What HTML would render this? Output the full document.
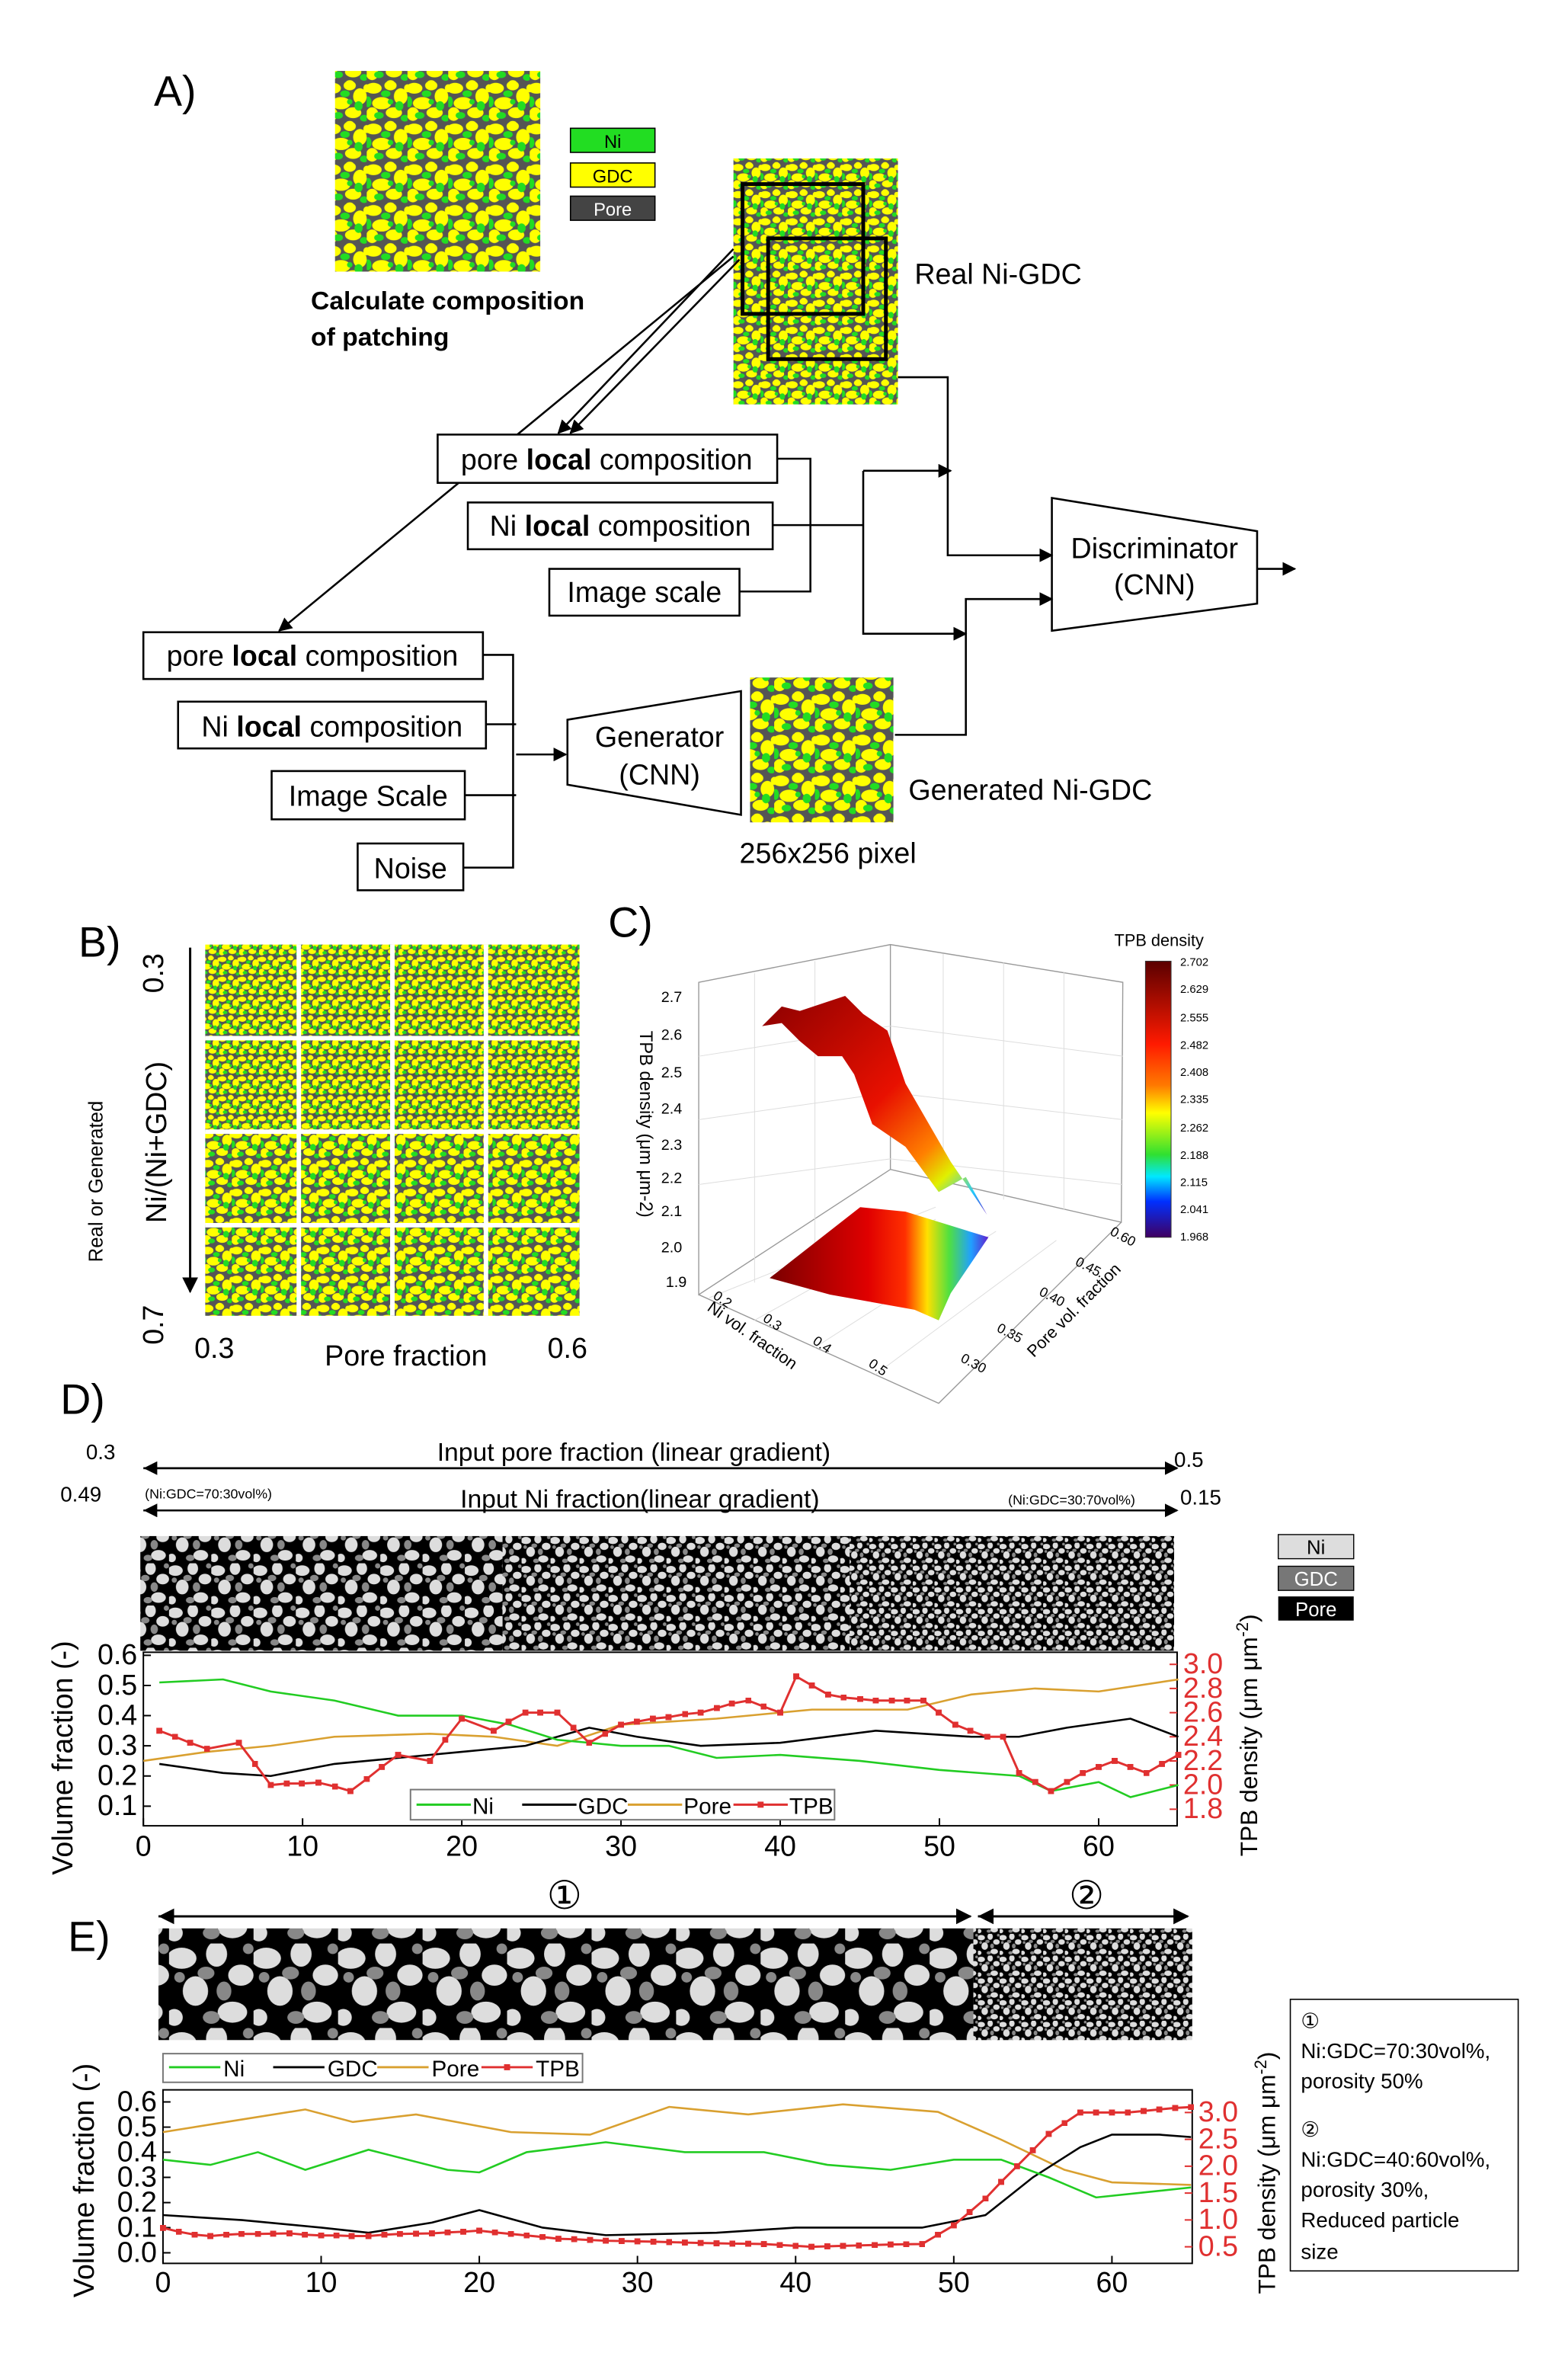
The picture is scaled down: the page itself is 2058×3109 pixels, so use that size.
<!DOCTYPE html>
<html><head><meta charset="utf-8"><style>
html,body{margin:0;padding:0;background:#fff}
svg{display:block}
text{font-family:"Liberation Sans",sans-serif}
</style></head><body>
<svg xmlns="http://www.w3.org/2000/svg" width="2058" height="3109" viewBox="0 0 1039 1570" preserveAspectRatio="none">
<defs>
<marker id="ah" viewBox="0 0 10 10" refX="9" refY="5" markerWidth="7" markerHeight="7" orient="auto"><path d="M0,0L10,5L0,10z" fill="#000"/></marker>
<marker id="sq" viewBox="0 0 4 4" refX="2" refY="2" markerWidth="4" markerHeight="4" markerUnits="userSpaceOnUse"><rect width="4" height="4" fill="#e03030"/></marker>
<g id="ygtile">
<rect width="60" height="60" fill="#555"/>
<g fill="#ffff00"><ellipse cx="10" cy="10" rx="12" ry="8"/><ellipse cx="35" cy="6" rx="9" ry="7"/><ellipse cx="50" cy="22" rx="10" ry="12"/><ellipse cx="22" cy="32" rx="14" ry="9"/><ellipse cx="8" cy="48" rx="9" ry="10"/><ellipse cx="40" cy="46" rx="12" ry="8"/><ellipse cx="60" cy="10" rx="5" ry="6"/><ellipse cx="0" cy="10" rx="5" ry="6"/><ellipse cx="35" cy="62" rx="6" ry="4"/></g>
<g fill="#22dd22"><ellipse cx="28" cy="18" rx="7" ry="5"/><ellipse cx="48" cy="36" rx="6" ry="7"/><ellipse cx="18" cy="50" rx="7" ry="5"/><ellipse cx="2" cy="30" rx="5" ry="8"/><ellipse cx="56" cy="54" rx="6" ry="5"/><ellipse cx="35" cy="30" rx="4" ry="4"/></g>
</g>
<g id="gtile">
<rect width="80" height="80" fill="#000"/>
<g fill="#ddd"><ellipse cx="12" cy="14" rx="14" ry="10"/><ellipse cx="45" cy="10" rx="10" ry="12"/><ellipse cx="68" cy="30" rx="12" ry="10"/><ellipse cx="25" cy="45" rx="12" ry="14"/><ellipse cx="60" cy="65" rx="14" ry="10"/><ellipse cx="5" cy="70" rx="8" ry="8"/></g>
<g fill="#888"><ellipse cx="35" cy="28" rx="8" ry="6"/><ellipse cx="52" cy="45" rx="7" ry="9"/><ellipse cx="10" cy="32" rx="5" ry="5"/><ellipse cx="40" cy="70" rx="8" ry="6"/><ellipse cx="75" cy="5" rx="5" ry="5"/></g>
</g>
<pattern id="pA" width="60" height="60" patternUnits="userSpaceOnUse" patternTransform="scale(0.45)"><use href="#ygtile"/></pattern>
<pattern id="pA2" width="60" height="60" patternUnits="userSpaceOnUse" patternTransform="scale(0.3)"><use href="#ygtile"/></pattern>
<pattern id="pB" width="60" height="60" patternUnits="userSpaceOnUse" patternTransform="scale(0.22)"><use href="#ygtile"/></pattern>
<pattern id="pB2" width="60" height="60" patternUnits="userSpaceOnUse" patternTransform="scale(0.32)"><use href="#ygtile"/></pattern>
<pattern id="pG1" width="80" height="80" patternUnits="userSpaceOnUse" patternTransform="scale(0.7)"><use href="#gtile"/></pattern>
<pattern id="pG2" width="80" height="80" patternUnits="userSpaceOnUse" patternTransform="scale(0.18)"><use href="#gtile"/></pattern>
<pattern id="pG3" width="80" height="80" patternUnits="userSpaceOnUse" patternTransform="scale(0.35)"><use href="#gtile"/></pattern>
<pattern id="pG4" width="80" height="80" patternUnits="userSpaceOnUse" patternTransform="scale(0.24)"><use href="#gtile"/></pattern>
<linearGradient id="cb" x1="0" y1="0" x2="0" y2="1">
<stop offset="0" stop-color="#5a0000"/><stop offset="0.3" stop-color="#ff1a00"/><stop offset="0.45" stop-color="#ff7a00"/><stop offset="0.55" stop-color="#ffff00"/><stop offset="0.7" stop-color="#30e030"/><stop offset="0.78" stop-color="#00e8ff"/><stop offset="0.87" stop-color="#0030ff"/><stop offset="1" stop-color="#400060"/></linearGradient>
<linearGradient id="surf" x1="0" y1="0" x2="1" y2="1">
<stop offset="0" stop-color="#8a0000"/><stop offset="0.5" stop-color="#e81000"/><stop offset="0.72" stop-color="#ff8000"/><stop offset="0.82" stop-color="#e0f000"/><stop offset="0.92" stop-color="#20c8ff"/><stop offset="1" stop-color="#6020d0"/></linearGradient>
<linearGradient id="floor" x1="0" y1="0" x2="1" y2="0">
<stop offset="0" stop-color="#7a0000"/><stop offset="0.45" stop-color="#e00000"/><stop offset="0.62" stop-color="#ff3000"/><stop offset="0.72" stop-color="#ffe000"/><stop offset="0.82" stop-color="#50e040"/><stop offset="0.92" stop-color="#20a0ff"/><stop offset="1" stop-color="#6020d0"/></linearGradient>
</defs>

<!-- textures -->
<rect x="222" y="47" width="136" height="133" fill="url(#pA)"/>
<rect x="486" y="105" width="109" height="163" fill="url(#pA2)"/>
<rect x="497" y="449" width="95" height="96" fill="url(#pA)"/>
<rect x="136" y="626" width="248" height="124" fill="url(#pB)"/>
<rect x="136" y="750" width="248" height="122" fill="url(#pB2)"/>
<g stroke="#fff" stroke-width="3"><path d="M198,626V872M260,626V872M322,626V872M136,688H384M136,750H384M136,812H384"/></g>
<rect x="93" y="1018" width="240" height="76" fill="url(#pG3)"/>
<rect x="333" y="1018" width="230" height="76" fill="url(#pG4)"/>
<rect x="563" y="1018" width="215" height="76" fill="url(#pG2)"/>
<rect x="105" y="1278" width="540" height="74" fill="url(#pG1)"/>
<rect x="645" y="1278" width="145" height="74" fill="url(#pG2)"/>

<g font-size="19" fill="#000">
<text x="102" y="70" font-size="28">A)</text>
<rect x="378" y="85" width="56" height="16" fill="#22dd22" stroke="#000" stroke-width=".8"/><text x="406" y="98" font-size="12" text-anchor="middle">Ni</text>
<rect x="378" y="108" width="56" height="16" fill="#ffff00" stroke="#000" stroke-width=".8"/><text x="406" y="121" font-size="12" text-anchor="middle">GDC</text>
<rect x="378" y="130" width="56" height="16" fill="#444" stroke="#000" stroke-width=".8"/><text x="406" y="143" font-size="12" text-anchor="middle" fill="#fff">Pore</text>
<text x="206" y="205" font-size="17" font-weight="bold">Calculate composition</text>
<text x="206" y="229" font-size="17" font-weight="bold">of patching</text>
<rect x="492" y="122" width="80" height="86" fill="none" stroke="#000" stroke-width="2.5"/>
<rect x="509" y="158" width="78" height="80" fill="none" stroke="#000" stroke-width="2.5"/>
<text x="606" y="188">Real Ni-GDC</text>
<g fill="none" stroke="#000" stroke-width="1.3">
<path d="M515,304H537V392H490"/>
<path d="M512,348H572"/>
<path d="M572,312V420H640" marker-end="url(#ah)"/>
<path d="M572,312H630" marker-end="url(#ah)"/>
<path d="M595,250H628V368H697" marker-end="url(#ah)"/>
<path d="M593,487H640V397H697" marker-end="url(#ah)"/>
<path d="M833,377H858" marker-end="url(#ah)"/>
<path d="M486,165L370,287" marker-end="url(#ah)"/>
<path d="M490,172L378,287" marker-end="url(#ah)"/>
<path d="M486,170L185,418" marker-end="url(#ah)"/>
<path d="M320,434H340V575H307"/>
<path d="M322,480H342"/>
<path d="M308,527H342"/>
<path d="M342,500H375" marker-end="url(#ah)"/>
<path d="M697,330L833,352V400L697,418Z"/>
<path d="M376,477L491,458V540L376,520Z"/>
<rect x="290" y="288" width="225" height="32" fill="#fff"/>
<rect x="310" y="333" width="202" height="31" fill="#fff"/>
<rect x="364" y="377" width="126" height="31" fill="#fff"/>
<rect x="95" y="419" width="225" height="31" fill="#fff"/>
<rect x="118" y="465" width="204" height="31" fill="#fff"/>
<rect x="180" y="511" width="128" height="32" fill="#fff"/>
<rect x="237" y="559" width="70" height="31" fill="#fff"/>
</g>
<text x="402" y="311" text-anchor="middle">pore <tspan font-weight="bold">local</tspan> composition</text>
<text x="411" y="355" text-anchor="middle">Ni <tspan font-weight="bold">local</tspan> composition</text>
<text x="427" y="399" text-anchor="middle">Image scale</text>
<text x="207" y="441" text-anchor="middle">pore <tspan font-weight="bold">local</tspan> composition</text>
<text x="220" y="488" text-anchor="middle">Ni <tspan font-weight="bold">local</tspan> composition</text>
<text x="244" y="534" text-anchor="middle">Image Scale</text>
<text x="272" y="582" text-anchor="middle">Noise</text>
<text x="765" y="370" text-anchor="middle">Discriminator</text>
<text x="765" y="394" text-anchor="middle">(CNN)</text>
<text x="437" y="495" text-anchor="middle">Generator</text>
<text x="437" y="520" text-anchor="middle">(CNN)</text>
<text x="602" y="530">Generated Ni-GDC</text>
<text x="490" y="572">256x256 pixel</text>

<text x="52" y="634" font-size="28">B)</text>
<text transform="translate(108,645) rotate(-90)" text-anchor="middle">0.3</text>
<text transform="translate(108,878) rotate(-90)" text-anchor="middle">0.7</text>
<text transform="translate(110,757) rotate(-90)" text-anchor="middle">Ni/(Ni+GDC)</text>
<text transform="translate(68,783) rotate(-90)" font-size="13" text-anchor="middle">Real or Generated</text>
<path d="M126,628V856" stroke="#000" stroke-width="1.5" marker-end="url(#ah)"/>
<text x="142" y="900" text-anchor="middle">0.3</text>
<text x="269" y="905" text-anchor="middle">Pore fraction</text>
<text x="376" y="900" text-anchor="middle">0.6</text>

<text x="403" y="621" font-size="28">C)</text>
<g stroke="#999" stroke-width=".7" fill="none">
<path d="M463,651L590,626L744,651L743,810L590,775L463,858Z"/>
<path d="M590,626V775"/>
<path d="M463,858L622,930L743,810"/>
</g>
<g stroke="#ddd" stroke-width=".5" fill="none">
<path d="M463,700L590,680L744,700M463,742L590,724L744,742M463,785L590,768L744,785M500,645V850M540,637V832M625,632V784M665,638V795M705,644V802M500,875L620,808M540,893L660,816M580,911L700,822M470,860L620,800"/>
</g>
<path d="M505,680L518,667L530,670L548,664L560,660L572,672L588,683L600,718L630,770L654,805L640,780L622,790L600,760L578,745L566,712L558,700L542,700L530,690L518,678Z" fill="url(#surf)"/>
<path d="M510,847L570,800L600,803L655,820L630,857L622,875L606,868L550,858Z" fill="url(#floor)"/>
<g font-size="10" text-anchor="end">
<text x="452" y="664">2.7</text><text x="452" y="689">2.6</text><text x="452" y="714">2.5</text><text x="452" y="738">2.4</text><text x="452" y="762">2.3</text><text x="452" y="784">2.2</text><text x="452" y="806">2.1</text><text x="452" y="830">2.0</text><text x="455" y="853">1.9</text>
</g>
<text transform="translate(424,745) rotate(90)" font-size="12" text-anchor="middle">TPB density (μm μm-2)</text>
<g font-size="9"><text transform="translate(472,860) rotate(35)">0.2</text><text transform="translate(505,875) rotate(35)">0.3</text><text transform="translate(538,890) rotate(35)">0.4</text><text transform="translate(575,905) rotate(35)">0.5</text>
<text transform="translate(636,902) rotate(28)">0.30</text><text transform="translate(660,882) rotate(28)">0.35</text><text transform="translate(688,858) rotate(28)">0.40</text><text transform="translate(712,838) rotate(28)">0.45</text><text transform="translate(735,818) rotate(28)">0.60</text></g>
<text transform="translate(468,868) rotate(35)" font-size="11">Ni vol. fraction</text>
<text transform="translate(685,900) rotate(-45)" font-size="11">Pore vol. fraction</text>
<text x="768" y="627" font-size="11" text-anchor="middle">TPB density</text>
<rect x="759" y="637" width="17" height="183" fill="url(#cb)" stroke="#333" stroke-width=".5"/>
<g font-size="7.5"><text x="782" y="640">2.702</text><text x="782" y="658">2.629</text><text x="782" y="677">2.555</text><text x="782" y="695">2.482</text><text x="782" y="713">2.408</text><text x="782" y="731">2.335</text><text x="782" y="750">2.262</text><text x="782" y="768">2.188</text><text x="782" y="786">2.115</text><text x="782" y="804">2.041</text><text x="782" y="822">1.968</text></g>

<text x="40" y="937" font-size="28">D)</text>
<text x="57" y="967" font-size="14">0.3</text>
<text x="420" y="968" font-size="17" text-anchor="middle">Input pore fraction (linear gradient)</text>
<path d="M95,973H780" stroke="#000" stroke-width="1.3" marker-end="url(#ah)"/>
<path d="M780,973H96" stroke="#000" stroke-width="1.3" marker-end="url(#ah)"/>
<text x="778" y="972" font-size="14">0.5</text>
<text x="40" y="995" font-size="14">0.49</text>
<text x="96" y="993" font-size="9">(Ni:GDC=70:30vol%)</text>
<text x="424" y="999" font-size="17" text-anchor="middle">Input Ni fraction(linear gradient)</text>
<text x="668" y="997" font-size="9">(Ni:GDC=30:70vol%)</text>
<text x="782" y="997" font-size="14">0.15</text>
<path d="M95,1001H780" stroke="#000" stroke-width="1.3" marker-end="url(#ah)"/>
<path d="M780,1001H96" stroke="#000" stroke-width="1.3" marker-end="url(#ah)"/>
<rect x="847" y="1017" width="50" height="16" fill="#ddd" stroke="#000" stroke-width=".7"/><text x="872" y="1030" font-size="13" text-anchor="middle">Ni</text>
<rect x="847" y="1038" width="50" height="16" fill="#777" stroke="#000" stroke-width=".7"/><text x="872" y="1051" font-size="13" text-anchor="middle" fill="#fff">GDC</text>
<rect x="847" y="1058" width="50" height="16" fill="#000"/><text x="872" y="1071" font-size="13" text-anchor="middle" fill="#fff">Pore</text>

<!-- chart D -->
<rect x="95" y="1095" width="685" height="115" fill="none" stroke="#000"/>
<g stroke="#000"><path d="M95,1210v-5M200.5,1210v-5M306,1210v-5M411.5,1210v-5M517,1210v-5M622.5,1210v-5M728,1210v-5M95,1197h5M95,1177h5M95,1157h5M95,1137h5M95,1117h5M95,1097h5"/></g>
<g stroke="#e03030"><path d="M780,1199h-5M780,1183h-5M780,1167h-5M780,1151h-5M780,1135h-5M780,1119h-5M780,1103h-5"/></g>
<g font-size="19" text-anchor="middle"><text x="95" y="1230">0</text><text x="200.5" y="1230">10</text><text x="306" y="1230">20</text><text x="411.5" y="1230">30</text><text x="517" y="1230">40</text><text x="622.5" y="1230">50</text><text x="728" y="1230">60</text></g>
<g font-size="19" text-anchor="end"><text x="91" y="1203">0.1</text><text x="91" y="1183">0.2</text><text x="91" y="1163">0.3</text><text x="91" y="1143">0.4</text><text x="91" y="1123">0.5</text><text x="91" y="1103">0.6</text></g>
<g font-size="19" fill="#e03030"><text x="784" y="1205">1.8</text><text x="784" y="1189">2.0</text><text x="784" y="1173">2.2</text><text x="784" y="1157">2.4</text><text x="784" y="1141">2.6</text><text x="784" y="1125">2.8</text><text x="784" y="1109">3.0</text></g>
<g fill="none" stroke-width="1.3">
<polyline stroke="#d9a030" points="95,1167 137.2,1161 179.4,1157 221.6,1151 284.9,1149 327.1,1151 369.3,1157 411.5,1143 474.8,1139 538.1,1133 601.4,1133 643.6,1123 685.8,1119 728,1121 780.8,1113"/>
<polyline stroke="#000" points="105.6,1169 147.8,1175 179.4,1177 221.6,1169 263.8,1165 306,1161 348.2,1157 390.4,1145 422.1,1151 464.3,1157 517,1155 580.3,1147 643.6,1151 675.3,1151 706.9,1145 749.1,1139 780.8,1151"/>
<polyline stroke="#22cc22" points="105.6,1115 147.8,1113 179.4,1121 221.6,1127 263.8,1137 306,1137 337.7,1143 369.3,1153 411.5,1157 443.2,1157 474.8,1165 517,1163 569.8,1167 622.5,1173 675.3,1177 696.4,1187 728,1181 749.1,1191 780.8,1183"/>
<polyline stroke="#e03030" stroke-width="1.5" marker-start="url(#sq)" marker-mid="url(#sq)" marker-end="url(#sq)" points="105.6,1147 116,1151 126,1155 137.2,1159 158.3,1155 169,1169 179.4,1183 190,1182 200,1182 211,1181.4 222,1184 232.2,1187 243,1179 253,1171 263.8,1163 284.9,1167 295,1153 306,1139 327.1,1147 337,1141 348.2,1135 358,1135 369.3,1135 380,1145 390.4,1155 401,1149 411.5,1143 422,1141 432.6,1139 443,1138 454,1136 464.3,1135 475,1132 485,1129 495.9,1127 506,1131 517,1135 527.6,1111 538,1117 548.7,1123 559,1125 570,1126 580.3,1127 591,1127 601,1127 611.9,1127 622,1135 633,1143 643,1147 654.2,1151 664.7,1151 675.3,1175 686,1181 696.4,1187 707,1181 717.5,1175 728,1171 738.6,1167 749,1171 759.7,1175 770,1169 780.8,1163"/>
</g>
<rect x="272" y="1186" width="281" height="20" fill="#fff" stroke="#777"/>
<g stroke-width="1.5"><line x1="276" x2="312" y1="1196" y2="1196" stroke="#22cc22"/><line x1="346" x2="382" y1="1196" y2="1196" stroke="#000"/><line x1="416" x2="452" y1="1196" y2="1196" stroke="#d9a030"/><line x1="486" x2="522" y1="1196" y2="1196" stroke="#e03030"/></g>
<rect x="502" y="1194" width="4" height="4" fill="#e03030"/>
<g font-size="15"><text x="313" y="1202">Ni</text><text x="383" y="1202">GDC</text><text x="453" y="1202">Pore</text><text x="523" y="1202">TPB</text></g>
<text transform="translate(48,1165) rotate(-90)" text-anchor="middle">Volume fraction (-)</text>
<text transform="translate(833,1150) rotate(-90)" font-size="16" text-anchor="middle">TPB density (μm μm<tspan dy="-6" font-size="11">-2</tspan><tspan dy="6">)</tspan></text>

<text x="45" y="1293" font-size="28">E)</text>
<text x="374" y="1265" font-size="26" text-anchor="middle">①</text>
<text x="720" y="1265" font-size="26" text-anchor="middle">②</text>
<path d="M105,1270H643" stroke="#000" stroke-width="1.5" marker-end="url(#ah)"/>
<path d="M643,1270H106" stroke="#000" stroke-width="1.5" marker-end="url(#ah)"/>
<path d="M648,1270H787" stroke="#000" stroke-width="1.5" marker-end="url(#ah)"/>
<path d="M787,1270H649" stroke="#000" stroke-width="1.5" marker-end="url(#ah)"/>

<!-- chart E -->
<rect x="108" y="1385" width="682" height="115" fill="none" stroke="#000"/>
<g stroke="#000"><path d="M108,1500v-5M212.8,1500v-5M317.6,1500v-5M422.4,1500v-5M527.2,1500v-5M632,1500v-5M736.8,1500v-5M108,1493h5M108,1476.3h5M108,1459.7h5M108,1443h5M108,1426.3h5M108,1409.7h5M108,1393h5"/></g>
<g stroke="#e03030"><path d="M790,1489h-5M790,1471.2h-5M790,1453.4h-5M790,1435.6h-5M790,1417.8h-5M790,1400h-5"/></g>
<g font-size="19" text-anchor="middle"><text x="108" y="1519">0</text><text x="212.8" y="1519">10</text><text x="317.6" y="1519">20</text><text x="422.4" y="1519">30</text><text x="527.2" y="1519">40</text><text x="632" y="1519">50</text><text x="736.8" y="1519">60</text></g>
<g font-size="19" text-anchor="end"><text x="104" y="1499">0.0</text><text x="104" y="1482.3">0.1</text><text x="104" y="1465.7">0.2</text><text x="104" y="1449">0.3</text><text x="104" y="1432.3">0.4</text><text x="104" y="1415.7">0.5</text><text x="104" y="1399">0.6</text></g>
<g font-size="19" fill="#e03030"><text x="794" y="1495">0.5</text><text x="794" y="1477.2">1.0</text><text x="794" y="1459.4">1.5</text><text x="794" y="1441.6">2.0</text><text x="794" y="1423.8">2.5</text><text x="794" y="1406">3.0</text></g>
<g fill="none" stroke-width="1.3">
<polyline stroke="#d9a030" points="108,1413 149.9,1406.3 202.3,1398 233.8,1406.3 275.7,1401.3 338.6,1413 391,1414.7 443.4,1396.3 495.8,1401.3 558.6,1394.6 621.5,1399.6 663.4,1418 705.4,1438 736.8,1446.3 789.2,1448"/>
<polyline stroke="#000" points="108,1468 160.4,1471.3 212.8,1476.3 244.2,1479.7 286.2,1473 317.6,1464.7 359.5,1476.3 401.4,1481.3 474.8,1479.7 527.2,1476.3 611,1476.3 653,1468 684.4,1443 715.8,1423 736.8,1414.7 768.2,1414.7 789.2,1416.3"/>
<polyline stroke="#22cc22" points="108,1431.3 139.4,1434.7 170.9,1426.3 202.3,1438 244.2,1424.7 296.6,1438 317.6,1439.7 349,1426.3 401.4,1419.7 453.8,1426.3 506.2,1426.3 548.2,1434.7 590.1,1438 632,1431.3 663.4,1431.3 694.9,1443 726.3,1456.3 757.8,1453 789.2,1449.7"/>
<polyline stroke="#e03030" stroke-width="1.5" marker-start="url(#sq)" marker-mid="url(#sq)" marker-end="url(#sq)" points="108,1476.5 118.5,1479 129,1481 139.4,1481.9 150,1481 160,1480.5 171,1480.5 181,1480.3 191.8,1480.1 202,1481 212.8,1481.5 223,1481.5 233,1481.9 244.2,1481.9 254.7,1481 265,1480.5 275.7,1480.3 286.2,1480.1 296.6,1479.5 307,1479 317.6,1478.3 328,1479.5 338.6,1480.5 349,1481.5 359.5,1482.5 370,1483.7 380.5,1484 391,1484.5 401.4,1485 411.9,1485.2 422.4,1485.4 433,1485.6 443.4,1485.9 453.8,1486.2 464.3,1486.5 474.8,1486.7 485.3,1486.9 495.8,1487 506.2,1487.2 516.7,1487.8 527.2,1488.4 537.7,1489 548.2,1488.7 558.6,1488.4 569.1,1488.1 579.6,1487.8 590.1,1487.5 600.5,1487.3 611,1487.2 621.5,1481 632,1474.8 642.5,1466 653,1457 663.4,1446 673.9,1435.6 684.4,1425 694.9,1414.2 705.4,1407 715.8,1400 726.3,1400 736.8,1400 747.3,1400 757.8,1399 768.2,1398 778.7,1397 789.2,1396.4"/>
</g>
<rect x="108" y="1361" width="278" height="19" fill="#fff" stroke="#777"/>
<g stroke-width="1.5"><line x1="112" x2="146" y1="1370" y2="1370" stroke="#22cc22"/><line x1="181" x2="215" y1="1370" y2="1370" stroke="#000"/><line x1="250" x2="284" y1="1370" y2="1370" stroke="#d9a030"/><line x1="319" x2="353" y1="1370" y2="1370" stroke="#e03030"/></g>
<rect x="334" y="1368" width="4" height="4" fill="#e03030"/>
<g font-size="15"><text x="148" y="1376">Ni</text><text x="217" y="1376">GDC</text><text x="286" y="1376">Pore</text><text x="355" y="1376">TPB</text></g>
<text transform="translate(62,1445) rotate(-90)" text-anchor="middle">Volume fraction (-)</text>
<text transform="translate(845,1440) rotate(-90)" font-size="16" text-anchor="middle">TPB density (μm μm<tspan dy="-6" font-size="11">-2</tspan><tspan dy="6">)</tspan></text>
<rect x="855" y="1325" width="151" height="180" fill="#fff" stroke="#000" stroke-width=".8"/>
<g font-size="14"><text x="862" y="1344">①</text><text x="862" y="1364">Ni:GDC=70:30vol%,</text><text x="862" y="1384">porosity 50%</text>
<text x="862" y="1416">②</text><text x="862" y="1436">Ni:GDC=40:60vol%,</text><text x="862" y="1456">porosity 30%,</text><text x="862" y="1476">Reduced particle</text><text x="862" y="1497">size</text></g>
</g>
</svg>
</body></html>
